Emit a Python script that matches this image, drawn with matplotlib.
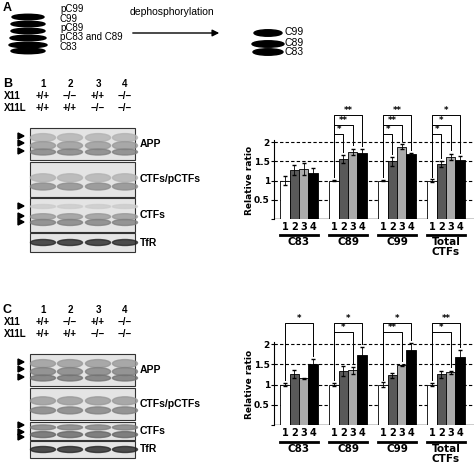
import matplotlib
matplotlib.use("Agg")
import matplotlib.pyplot as plt
from matplotlib.patches import Ellipse, Rectangle, FancyArrowPatch
import numpy as np

groups = ["C83", "C89", "C99", "Total\nCTFs"]
lanes = ["1", "2", "3", "4"]
bar_colors = ["white", "#595959", "#ababab", "black"]
B_vals = [[1.0, 1.27, 1.30, 1.20], [1.0, 1.55, 1.75, 1.72], [1.0, 1.50, 1.88, 1.68], [1.0, 1.42, 1.62, 1.53]]
B_err = [[0.12, 0.12, 0.15, 0.12], [0.02, 0.1, 0.08, 0.1], [0.01, 0.12, 0.06, 0.03], [0.04, 0.08, 0.08, 0.1]]
B_sig = [[], [(2, "*"), (3, "**"), (4, "**")], [(2, "*"), (3, "**"), (4, "**")], [(2, "*"), (3, "*"), (4, "*")]]
C_vals = [[1.0, 1.27, 1.15, 1.50], [1.0, 1.33, 1.35, 1.72], [1.0, 1.23, 1.47, 1.85], [1.0, 1.25, 1.30, 1.68]]
C_err = [[0.04, 0.1, 0.02, 0.12], [0.03, 0.12, 0.08, 0.2], [0.05, 0.06, 0.02, 0.18], [0.03, 0.08, 0.04, 0.16]]
C_sig = [[(4, "*")], [(3, "*"), (4, "*")], [(3, "**"), (4, "*")], [(3, "*"), (4, "**")]]
X11 = ["+/+", "\u2212/\u2212", "+/+", "\u2212/\u2212"]
X11L = ["+/+", "+/+", "\u2212/\u2212", "\u2212/\u2212"]

W, H = 474, 463
fig = plt.figure(figsize=(W / 100, H / 100), dpi=100)
ov = fig.add_axes([0, 0, 1, 1])
ov.set_xlim(0, W); ov.set_ylim(H, 0); ov.axis("off")
fb = dict(fontweight="bold", family="Liberation Sans")

# Panel A
ov.text(3, 8, "A", fontsize=9, **fb, va="center")
for i, (y, w) in enumerate([(17, 32), (24, 34), (31, 34), (38, 36), (45, 38), (51, 34)]):
    ov.add_patch(Ellipse((28, y), w, 5.5, color="black"))
for y, t in [(9, "pC99"), (19, "C99"), (28, "pC89"), (37, "pC83 and C89"), (47, "C83")]:
    ov.text(60, y, t, fontsize=7, va="center", family="Liberation Sans")
ov.text(172, 12, "dephosphorylation", fontsize=7.5, ha="center", va="center", family="Liberation Sans")
ov.add_patch(FancyArrowPatch((130, 33), (222, 33), arrowstyle="-|>", mutation_scale=10, color="black", lw=1))
for y, w in [(33, 28), (44, 32), (52, 30)]:
    ov.add_patch(Ellipse((268, y), w, 6.5, color="black"))
for y, t in [(32, "C99"), (43, "C89"), (52, "C83")]:
    ov.text(285, y, t, fontsize=7.5, va="center", family="Liberation Sans")

lane_x = [43, 70, 98, 125]

def blots(y0, panels, label):
    ov.text(3, y0 - 20, label, fontsize=9, **fb, va="center")
    for x, l, a, b in zip(lane_x, lanes, X11, X11L):
        ov.text(x, y0 - 20, l, fontsize=7, ha="center", va="center", **fb)
        ov.text(x, y0 - 8, a, fontsize=7, ha="center", va="center", **fb)
        ov.text(x, y0 + 4, b, fontsize=7, ha="center", va="center", **fb)
    ov.text(4, y0 - 8, "X11", fontsize=7, va="center", **fb)
    ov.text(4, y0 + 4, "X11L", fontsize=7, va="center", **fb)
    for top, bot, name, bands, arrows in panels:
        ov.add_patch(Rectangle((30, top), 105, bot - top, facecolor="#e4e4e4", edgecolor="#333333", lw=0.8))
        for by, dark, th in bands:
            for x in lane_x:
                ov.add_patch(Ellipse((x, top + by * (bot - top)), 25, th, color=str(dark), alpha=0.8))
        ov.text(140, (top + bot) / 2, name, fontsize=7.5, va="center", **fb)
        for ay in arrows:
            ov.fill([18, 24, 18], [top + ay - 3, top + ay, top + ay + 3], color="black")

blots(104, [(128, 160, "APP", [(0.3, 0.7, 8), (0.55, 0.6, 8), (0.75, 0.5, 6)], [8, 15, 23]),
            (162, 197, "CTFs/pCTFs", [(0.45, 0.7, 8), (0.7, 0.55, 7)], []),
            (198, 232, "CTFs", [(0.25, 0.8, 4), (0.55, 0.6, 6), (0.72, 0.5, 6)], [8, 18, 24]),
            (233, 252, "TfR", [(0.5, 0.15, 6)], [])], "B")
blots(330, [(354, 386, "APP", [(0.3, 0.6, 8), (0.55, 0.5, 8), (0.75, 0.45, 6)], [8, 15, 23]),
            (388, 420, "CTFs/pCTFs", [(0.4, 0.6, 8), (0.7, 0.5, 7)], []),
            (422, 440, "CTFs", [(0.3, 0.5, 5), (0.7, 0.4, 6)], [3, 10, 15]),
            (441, 458, "TfR", [(0.5, 0.15, 6)], [])], "C")

bw = 0.19
def chart(y_zero, y_two, y_top, vals, errs, sigs, levels):
    ppu = (y_zero - y_two) / 2
    ax = fig.add_axes([274 / W, 1 - y_zero / H, 200 / W, (y_zero - y_top) / H])
    ax.set_ylim(0, (y_zero - y_top) / ppu)
    ax.set_xlim(-0.51, 3.57)
    for s in ["top", "right", "bottom"]:
        ax.spines[s].set_visible(False)
    ax.spines["left"].set_bounds(0, 2.05)
    ax.axhline(0, color="black", lw=1)
    for yv in [0.5, 1, 1.5, 2]:
        ax.axhline(yv, color="black", lw=0.8, ls=(0, (3, 2)), zorder=0)
    ax.set_yticks([0, 0.5, 1, 1.5, 2]); ax.set_yticklabels(["", "0.5", "1", "1.5", "2"], fontsize=6.5, fontweight="bold")
    ax.tick_params(axis="y", length=2, pad=1)
    ax.set_xticks([])
    ax.set_ylabel("Relative ratio", fontsize=6.5, fontweight="bold", labelpad=1)
    ax.yaxis.set_label_coords(-0.1, 1.0 / ((y_zero - y_top) / ppu) * 1.0, transform=ax.transAxes)
    for g in range(4):
        for k in range(4):
            x = g + (k - 1.5) * bw
            ax.bar(x, vals[g][k], bw, color=bar_colors[k], edgecolor="black", lw=0.6, zorder=2)
            ax.errorbar(x, vals[g][k], yerr=errs[g][k], color="black", capsize=1.5, lw=0.6, zorder=3)
            ax.text(x, -0.08, lanes[k], fontsize=7, ha="center", va="top", fontweight="bold", clip_on=False)
        ax.plot([g - 0.38, g + 0.38], [-0.42, -0.42], color="black", lw=2, clip_on=False)
        ax.text(g, -0.48, groups[g], fontsize=7.5, ha="center", va="top", fontweight="bold", clip_on=False, linespacing=1.0)
        for j, (k, star) in enumerate(sigs[g]):
            lev = levels[len(levels) - len(sigs[g]) + j]
            x1 = g - 1.5 * bw; x2 = g + (k - 2.5) * bw
            ax.plot([x1, x1, x2, x2], [1.1, lev, lev, vals[g][k - 1] + errs[g][k - 1] + 0.08], color="black", lw=0.7, clip_on=False)
            ax.text((x1 + x2) / 2, lev, star, fontsize=6, ha="center", va="bottom", fontweight="bold")

chart(219, 142, 100, B_vals, B_err, B_sig, [2.2, 2.45, 2.7])
chart(425, 344, 310, C_vals, C_err, C_sig, [2.3, 2.52])

fig.savefig("out.png", dpi=100)
